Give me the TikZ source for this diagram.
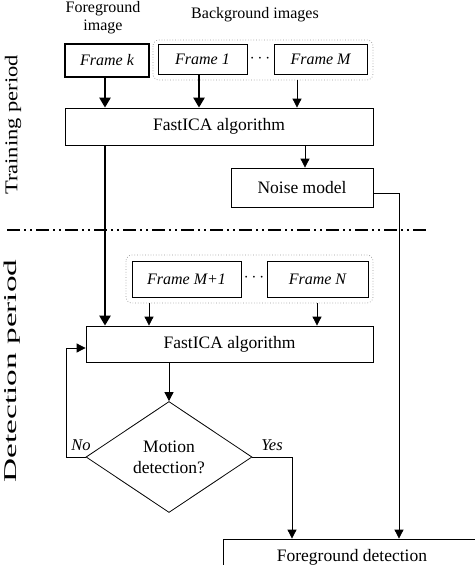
\documentclass[tikz,border=0pt]{standalone}
\usepackage{fontspec}
\setmainfont{Liberation Serif}
\usetikzlibrary{arrows.meta,shapes.geometric,calc}
\begin{document}
\begin{tikzpicture}[x=1pt,y=1pt,
  box/.style={draw, line width=0.8pt, inner sep=0pt, font=\fontsize{17.5}{20}\selectfont, text=black},
  framebox/.style={draw, line width=0.8pt, inner sep=0pt, font=\fontsize{16}{18}\selectfont\itshape, text=black},
  grp/.style={draw=gray!80, dotted, line width=0.7pt, rounded corners=6pt},
  thinarr/.style={line width=0.8pt, -{Triangle[length=9pt,width=9pt]}},
  thickarr/.style={line width=2.6pt, -{Triangle[length=10pt,width=11pt]}},
  plain/.style={line width=0.8pt},
  lbl/.style={font=\fontsize{16}{18}\selectfont, text=black, inner sep=0pt},
  ylbl/.style={font=\fontsize{16.5}{18}\selectfont\itshape, text=black, inner sep=0pt}
]
\useasboundingbox (0,0) rectangle (474,-565);
\fill[white] (0,0) rectangle (474,-565);

% top labels
\node[lbl, align=center] (fglbl) at (103,-18) {Foreground\\image};
\node[lbl] (bglbl) at (255,-15) {Background images};

% group 1
\draw[grp] (153,-40) rectangle (373,-80);
\coordinate (g1s) at (297,-80);
\node[framebox, line width=1.1pt, minimum width=84pt, minimum height=33pt] (fk) at (107,-60.5) {Frame k};
\node[framebox, minimum width=89pt, minimum height=30pt] (f1) at (202.5,-59) {Frame 1};
\node[framebox, minimum width=93pt, minimum height=30pt] (fM) at (320.5,-59) {Frame M};
\node[lbl] (dots1) at (260,-59) {$\cdots$};

% FastICA 1
\node[box, minimum width=308pt, minimum height=37pt] (fica1) at (219,-126.5) {FastICA algorithm};
% noise
\node[box, minimum width=142pt, minimum height=39pt] (noise) at (302,-187.5) {Noise model};

% dash-dot separator
\coordinate (sepL) at (7,-230);
\coordinate (sepR) at (426,-230);
\draw[line width=1.4pt, dash pattern=on 13pt off 4pt on 2pt off 4pt on 2pt off 4pt] (sepL) -- (sepR);

% group 2
\draw[grp] (126,-255) rectangle (373,-303);
\node[framebox, minimum width=109pt, minimum height=36pt] (fM1) at (186.5,-279) {Frame M+1};
\node[framebox, minimum width=101pt, minimum height=36pt] (fN) at (317.5,-279) {Frame N};
\node[lbl] (dots2) at (254,-278) {$\cdots$};

% FastICA 2
\node[box, minimum width=287pt, minimum height=36pt] (fica2) at (229.5,-344) {FastICA algorithm};

% diamond
\node[draw, line width=0.8pt, diamond, aspect=1.5, minimum width=166pt, minimum height=111pt, inner sep=0pt, align=center, font=\fontsize{17.5}{21}\selectfont, text=black] (dec) at (169,-457) {Motion\\detection?};

% foreground detection (extends beyond picture)
\node[box, minimum width=258pt, minimum height=36pt] (fg) at (352,-557) {Foreground detection\hspace{8pt}};

% rotated side labels
\node[rotate=90, font=\fontsize{18}{20}\selectfont, text=black, inner sep=0pt] (tp) at (13,-125) {\scalebox{1.25}[1]{Training period}};
\node[rotate=90, font=\fontsize{18}{20}\selectfont, text=black, inner sep=0pt] (dp) at (12,-371) {\scalebox{1.85}[1]{Detection period}};

% arrows training
\draw[thickarr] (fk.south -| 105,0) -- (fica1.north -| 105,0);
\draw[thickarr] (f1.south -| 199,0) -- (fica1.north -| 199,0);
\draw[thinarr] (g1s) -- (fica1.north -| g1s);
\draw[thinarr] (fica1.south -| 305,0) -- (noise.north -| 305,0);
\draw[thickarr] (fica1.south -| 105,0) -- (fica2.north -| 105,0);

% arrows detection
\coordinate (g2a) at (149,-303);
\coordinate (g2b) at (317,-303);
\draw[thinarr] (g2a) -- (fica2.north -| g2a);
\draw[thinarr] (g2b) -- (fica2.north -| g2b);
\draw[thinarr] (fica2.south -| dec.north) -- (dec.north);

% No loop
\coordinate (noc) at (66,-457);
\draw[thinarr] (dec.west) -- (noc) |- (fica2.west |- 0,-348);
\node[ylbl] (nol) at (81,-445) {No};
% Yes
\coordinate (yesc) at (292,-457);
\draw[thinarr] (dec.east) -- (yesc) -- (fg.north -| yesc);
\node[ylbl] (yesl) at (272,-445) {Yes};
% noise to fg
\coordinate (nz) at (373,-193);
\coordinate (nzc) at (399,-193);
\draw[thinarr] (nz) -- (nzc) -- (fg.north -| nzc);
\end{tikzpicture}
\end{document}
